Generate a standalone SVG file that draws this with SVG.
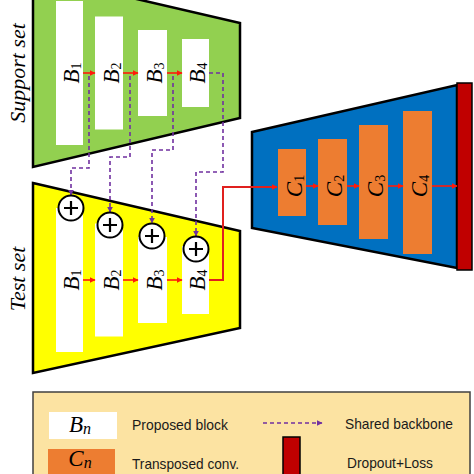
<svg xmlns="http://www.w3.org/2000/svg" width="474" height="474" viewBox="0 0 474 474">
<defs>
<style>
.trap{stroke:#000;stroke-width:2.5;stroke-linejoin:miter}
.blk{fill:#fff}
.cblk{fill:#ED7D31}
.lbl{font-family:"Liberation Serif",serif;font-style:italic;font-size:23px;fill:#000;text-anchor:middle}
.sub{font-size:14px;font-style:normal}
.side{font-family:"Liberation Serif",serif;font-style:italic;font-size:22px;fill:#000;text-anchor:middle}
.red{stroke:#FF1A0A;stroke-width:1.6;fill:none}
.dred{stroke:#E0201E;stroke-width:2;fill:none}
.pur{stroke:#7030A0;stroke-width:1.6;stroke-dasharray:4 3;fill:none}
.circ{fill:#fff;stroke:#000;stroke-width:2}
.plus{stroke:#000;stroke-width:2.2}
.leg{font-family:"Liberation Sans",sans-serif;font-size:15px;fill:#1a1a1a}
</style>
<marker id="ar" viewBox="0 0 10 10" refX="9" refY="5" markerWidth="6" markerHeight="6" markerUnits="userSpaceOnUse" orient="auto"><path d="M0,0 L10,5 L0,10 Z" fill="#FF1A0A"/></marker>
<marker id="ap" viewBox="0 0 10 10" refX="9" refY="5" markerWidth="6" markerHeight="6" markerUnits="userSpaceOnUse" orient="auto"><path d="M0,0 L10,5 L0,10 Z" fill="#7030A0"/></marker>
</defs>
<rect width="474" height="474" fill="#fff"/>

<g id="support-set">
<polygon class="trap" fill="#92D050" points="33,-25 240,23 240,118 33,167"/>
<text class="side" transform="translate(25,73) rotate(-90)">Support set</text>
</g>
<g id="test-set">
<polygon class="trap" fill="#FFFF00" points="33,183 240,231 240,328 33,373"/>
<text class="side" transform="translate(25,279) rotate(-90)">Test set</text>
</g>
<g id="decoder">
<polygon class="trap" fill="#0070C0" points="252,132 457,85 457,268 252,228"/>
</g>
<g id="dropout-loss">
<rect x="457" y="83" width="15" height="187" fill="#C00000" stroke="#000" stroke-width="1.5"/>
</g>

<g id="sB1"><rect class="blk" x="56" y="1" width="27" height="144"/><text class="lbl" transform="translate(79,73) rotate(-90)">B<tspan class="sub" dy="2">1</tspan></text></g>
<g id="sB2"><rect class="blk" x="95" y="16.5" width="28" height="113"/><text class="lbl" transform="translate(119,73) rotate(-90)">B<tspan class="sub" dy="2">2</tspan></text></g>
<g id="sB3"><rect class="blk" x="138" y="30" width="29" height="86"/><text class="lbl" transform="translate(162,73) rotate(-90)">B<tspan class="sub" dy="2">3</tspan></text></g>
<g id="sB4"><rect class="blk" x="182" y="39" width="27" height="68"/><text class="lbl" transform="translate(205,73) rotate(-90)">B<tspan class="sub" dy="2">4</tspan></text></g>

<g id="tB1"><rect class="blk" x="56" y="208" width="27" height="144"/><text class="lbl" transform="translate(79,280) rotate(-90)">B<tspan class="sub" dy="2">1</tspan></text></g>
<g id="tB2"><rect class="blk" x="95" y="223.5" width="28" height="113"/><text class="lbl" transform="translate(119,280) rotate(-90)">B<tspan class="sub" dy="2">2</tspan></text></g>
<g id="tB3"><rect class="blk" x="138" y="237" width="29" height="86"/><text class="lbl" transform="translate(162,280) rotate(-90)">B<tspan class="sub" dy="2">3</tspan></text></g>
<g id="tB4"><rect class="blk" x="182" y="246" width="27" height="68"/><text class="lbl" transform="translate(205,280) rotate(-90)">B<tspan class="sub" dy="2">4</tspan></text></g>

<g id="C1"><rect class="cblk" x="278" y="149" width="28" height="67"/><text class="lbl" transform="translate(302,186) rotate(-90)">C<tspan class="sub" dy="2">1</tspan></text></g>
<g id="C2"><rect class="cblk" x="318" y="139" width="29" height="86"/><text class="lbl" transform="translate(342,186) rotate(-90)">C<tspan class="sub" dy="2">2</tspan></text></g>
<g id="C3"><rect class="cblk" x="359" y="125" width="29" height="114"/><text class="lbl" transform="translate(383,186) rotate(-90)">C<tspan class="sub" dy="2">3</tspan></text></g>
<g id="C4"><rect class="cblk" x="403" y="111" width="29" height="143"/><text class="lbl" transform="translate(427,186) rotate(-90)">C<tspan class="sub" dy="2">4</tspan></text></g>

<g id="connectors">
<line class="red" x1="83" y1="73" x2="95" y2="73" marker-end="url(#ar)"/>
<line class="red" x1="123" y1="73" x2="138" y2="73" marker-end="url(#ar)"/>
<line class="red" x1="167" y1="73" x2="182" y2="73" marker-end="url(#ar)"/>
<line class="red" x1="83" y1="280" x2="95" y2="280" marker-end="url(#ar)"/>
<line class="red" x1="123" y1="280" x2="138" y2="280" marker-end="url(#ar)"/>
<line class="red" x1="167" y1="280" x2="182" y2="280" marker-end="url(#ar)"/>
<polyline class="dred" points="209,280 223,280 223,187 277,187" marker-end="url(#ar)"/>
<line class="red" x1="306" y1="186" x2="318" y2="186" marker-end="url(#ar)"/>
<line class="red" x1="347" y1="186" x2="359" y2="186" marker-end="url(#ar)"/>
<line class="red" x1="388" y1="186" x2="403" y2="186" marker-end="url(#ar)"/>
<line class="red" x1="432" y1="186" x2="457" y2="186" marker-end="url(#ar)"/>
<polyline class="pur" points="89,76 89,168 71,168 71,195" marker-end="url(#ap)"/>
<polyline class="pur" points="130,76 130,157 110,157 110,212" marker-end="url(#ap)"/>
<polyline class="pur" points="173,76 173,150 152,150 152,223" marker-end="url(#ap)"/>
<polyline class="pur" points="209,73 223,73 223,172 196,172 196,236" marker-end="url(#ap)"/>
</g>

<g id="add1"><circle class="circ" cx="71" cy="208" r="12.5"/><path class="plus" d="M64,208 H78 M71,201 V215"/></g>
<g id="add2"><circle class="circ" cx="110" cy="225" r="12.5"/><path class="plus" d="M103,225 H117 M110,218 V232"/></g>
<g id="add3"><circle class="circ" cx="152" cy="236" r="12.5"/><path class="plus" d="M145,236 H159 M152,229 V243"/></g>
<g id="add4"><circle class="circ" cx="196" cy="249" r="12.5"/><path class="plus" d="M189,249 H203 M196,242 V256"/></g>

<g id="legend">
<rect x="33" y="392" width="437" height="95" fill="#FCE3A2" stroke="#404040" stroke-width="1.5"/>
<rect x="49" y="412" width="68" height="27" fill="#fff"/>
<text class="lbl" x="80" y="432">B<tspan class="sub" dy="2" style="font-style:italic;font-size:16px">n</tspan></text>
<rect x="48" y="449" width="67" height="30" fill="#ED7D31"/>
<text class="lbl" x="80" y="466">C<tspan class="sub" dy="2" style="font-style:italic;font-size:16px">n</tspan></text>
<text class="leg" x="132" y="430" textLength="96" lengthAdjust="spacingAndGlyphs">Proposed block</text>
<text class="leg" x="132" y="469" textLength="107" lengthAdjust="spacingAndGlyphs">Transposed conv.</text>
<line class="pur" x1="263" y1="423" x2="322" y2="423" marker-end="url(#ap)"/>
<text class="leg" x="345" y="429" textLength="108" lengthAdjust="spacingAndGlyphs">Shared backbone</text>
<rect x="283" y="437" width="17" height="45" fill="#C00000" stroke="#000" stroke-width="1.5"/>
<text class="leg" x="347" y="468" textLength="86" lengthAdjust="spacingAndGlyphs">Dropout+Loss</text>
</g>
</svg>
